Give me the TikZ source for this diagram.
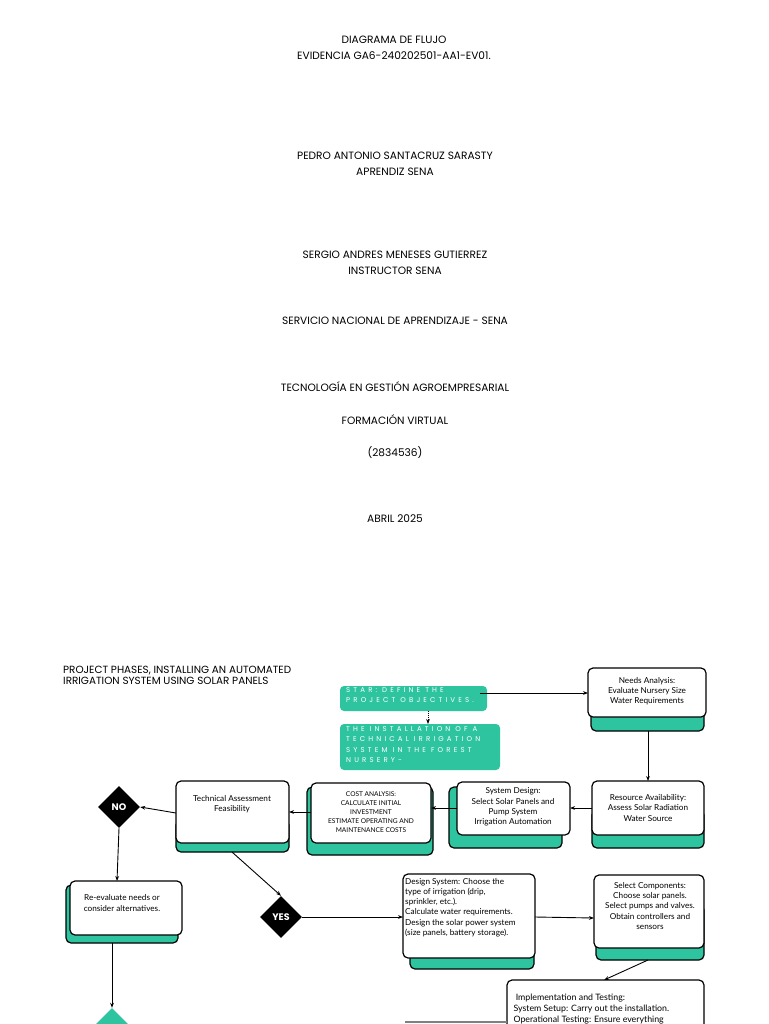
\documentclass[tikz,border=0pt]{standalone}
\usepackage{fontspec}
\setmainfont{Poppins}
\newfontfamily\boxfont{Lato}
\usetikzlibrary{arrows.meta,shapes.geometric}
\definecolor{teal}{HTML}{2EC4A0}
\tikzset{
 every picture/.style={x=1pt,y=-1pt},
 wbox/.style={draw=black,line width=1.2pt,fill=white,rounded corners=5pt},
 tbox/.style={draw=black,line width=1.2pt,fill=teal,rounded corners=5pt},
 txt/.style={font=\boxfont\fontsize{8.2}{10.2}\selectfont,align=center},
 ttl/.style={font=\fontsize{10.6}{15.5}\selectfont,align=center},
 lbl/.style={font=\fontsize{7}{10.5}\selectfont\addfontfeatures{LetterSpace=45},text=white,align=left,inner sep=0},
 arr/.style={-{Stealth[length=5pt]},line width=0.9pt},
 dia/.style={diamond,fill=black,text=white,font=\bfseries\fontsize{9.5}{9.5}\selectfont,minimum size=42pt,inner sep=0},
}
\begin{document}
\begin{tikzpicture}
\useasboundingbox (0,0) rectangle (768,1024);
\fill[white] (0,0) rectangle (768,1024);
\node[ttl] (t1) at (394,48) {DIAGRAMA DE FLUJO\\EVIDENCIA GA6-240202501-AA1-EV01.};
\node[ttl] (t2) at (395,164) {PEDRO ANTONIO SANTACRUZ SARASTY\\APRENDIZ SENA};
\node[ttl] (t3) at (395,263) {SERGIO ANDRES MENESES GUTIERREZ\\INSTRUCTOR SENA};
\node[ttl] (t4) at (395,321) {SERVICIO NACIONAL DE APRENDIZAJE - SENA};
\node[ttl] (t5) at (395,387) {TECNOLOGÍA EN GESTIÓN AGROEMPRESARIAL};
\node[ttl] (t6) at (395,420) {FORMACIÓN VIRTUAL};
\node[ttl] (t7) at (395,453) {(2834536)};
\node[ttl] (t8) at (395,519) {ABRIL 2025};
\node[font=\fontsize{10.4}{10.8}\selectfont,align=left,anchor=north west,inner sep=0] (hd) at (63,666) {PROJECT PHASES, INSTALLING AN AUTOMATED\\IRRIGATION SYSTEM USING SOLAR PANELS};
% teal labels
\fill[teal,rounded corners=4pt] (340,686) rectangle (487,711);
\node[lbl,anchor=north west] (star) at (346,687) {STAR: DEFINE THE\\PROJECT OBJECTIVES.};
\fill[teal,rounded corners=4pt] (340,724) rectangle (500,770);
\node[lbl,anchor=north west] (inst) at (346,726) {THE INSTALLATION OF A\\TECHNICAL IRRIGATION\\SYSTEM IN THE FOREST\\NURSERY-};
\coordinate (s1) at (480,693); \coordinate (s2) at (428,711); \coordinate (s3) at (428,724);
% boxes
\draw[tbox] (591,700) rectangle (704,731); \draw[wbox] (588,668) rectangle (706,717);
\node[txt] (needs) at (647,691) {Needs Analysis:\\Evaluate Nursery Size\\Water Requirements};
\draw[tbox] (592,810) rectangle (704,848); \draw[wbox] (592,781) rectangle (704,835);
\node[txt] (res) at (648,808) {Resource Availability:\\Assess Solar Radiation\\Water Source};
\draw[tbox] (449,787) rectangle (562,848); \draw[wbox] (457,782) rectangle (570,835);
\node[txt] (sd) at (513,807) {System Design:\\Select Solar Panels and\\Pump System\\Irrigation Automation};
\draw[tbox] (307,787) rectangle (433,855); \draw[wbox] (311,783) rectangle (431,843);
\node[txt,font=\boxfont\fontsize{6.6}{8.9}\selectfont] (cost) at (371,812) {COST ANALYSIS:\\CALCULATE INITIAL\\INVESTMENT\\ESTIMATE OPERATING AND\\MAINTENANCE COSTS};
\draw[tbox] (176,820) rectangle (289,852); \draw[wbox] (176,781) rectangle (289,843);
\node[txt] (tech) at (232,804) {Technical Assessment\\Feasibility};
\node[dia] (no) at (119,807) {NO};
\draw[tbox] (66,885) rectangle (178,943); \draw[wbox] (70,881) rectangle (182,935);
\node[txt] (re) at (122,903) {Re-evaluate needs or\\consider alternatives.};
\node[dia] (yes) at (281,917) {YES};
\draw[tbox] (410,930) rectangle (534,969); \draw[wbox] (403,874) rectangle (535,958);
\node[txt,align=left,anchor=north west,inner sep=1pt] (ds) at (404,877) {Design System: Choose the\\type of irrigation (drip,\\sprinkler, etc.).\\Calculate water requirements.\\Design the solar power system\\(size panels, battery storage).};
\draw[tbox] (596,905) rectangle (704,960); \draw[wbox] (594,875) rectangle (704,948);
\node[txt] (sc) at (650,906) {Select Components:\\Choose solar panels.\\Select pumps and valves.\\Obtain controllers and\\sensors};
\draw[wbox] (507,980) rectangle (704,1040);
\node[txt,font=\boxfont\fontsize{8.8}{11.4}\selectfont,align=left,anchor=north west] (impl) at (510,990) {\ Implementation and Testing:\\System Setup: Carry out the installation.\\Operational Testing: Ensure everything};
\node[diamond,fill=teal,minimum size=42pt,inner sep=0,text=white,font=\bfseries\fontsize{8}{8}\selectfont] (end) at (112,1029) {};
\coordinate (g1) at (405,1022);
% connectors
\draw[arr] (s1) -- (588,693);
\draw[arr,densely dotted] (s2) -- (s3);
\draw[arr] (648,731) -- (648,781);
\draw[arr] (592,808) -- (570,808);
\draw[arr] (457,808) -- (431,808);
\draw[arr] (311,812) -- (289,812);
\draw[arr] (176,813) -- (no.east);
\draw[arr] (no.south) -- (117,881);
\draw[arr] (232,852) -- (yes.north);
\draw[arr] (yes.east) -- (403,917);
\draw[arr] (535,917) -- (594,918);
\draw[arr] (648,960) -- (604,980);
\draw[arr] (112,943) -- (end.north);
\draw[gray,line width=1.5pt] (g1) -- (507,1022);
\end{tikzpicture}
\end{document}
